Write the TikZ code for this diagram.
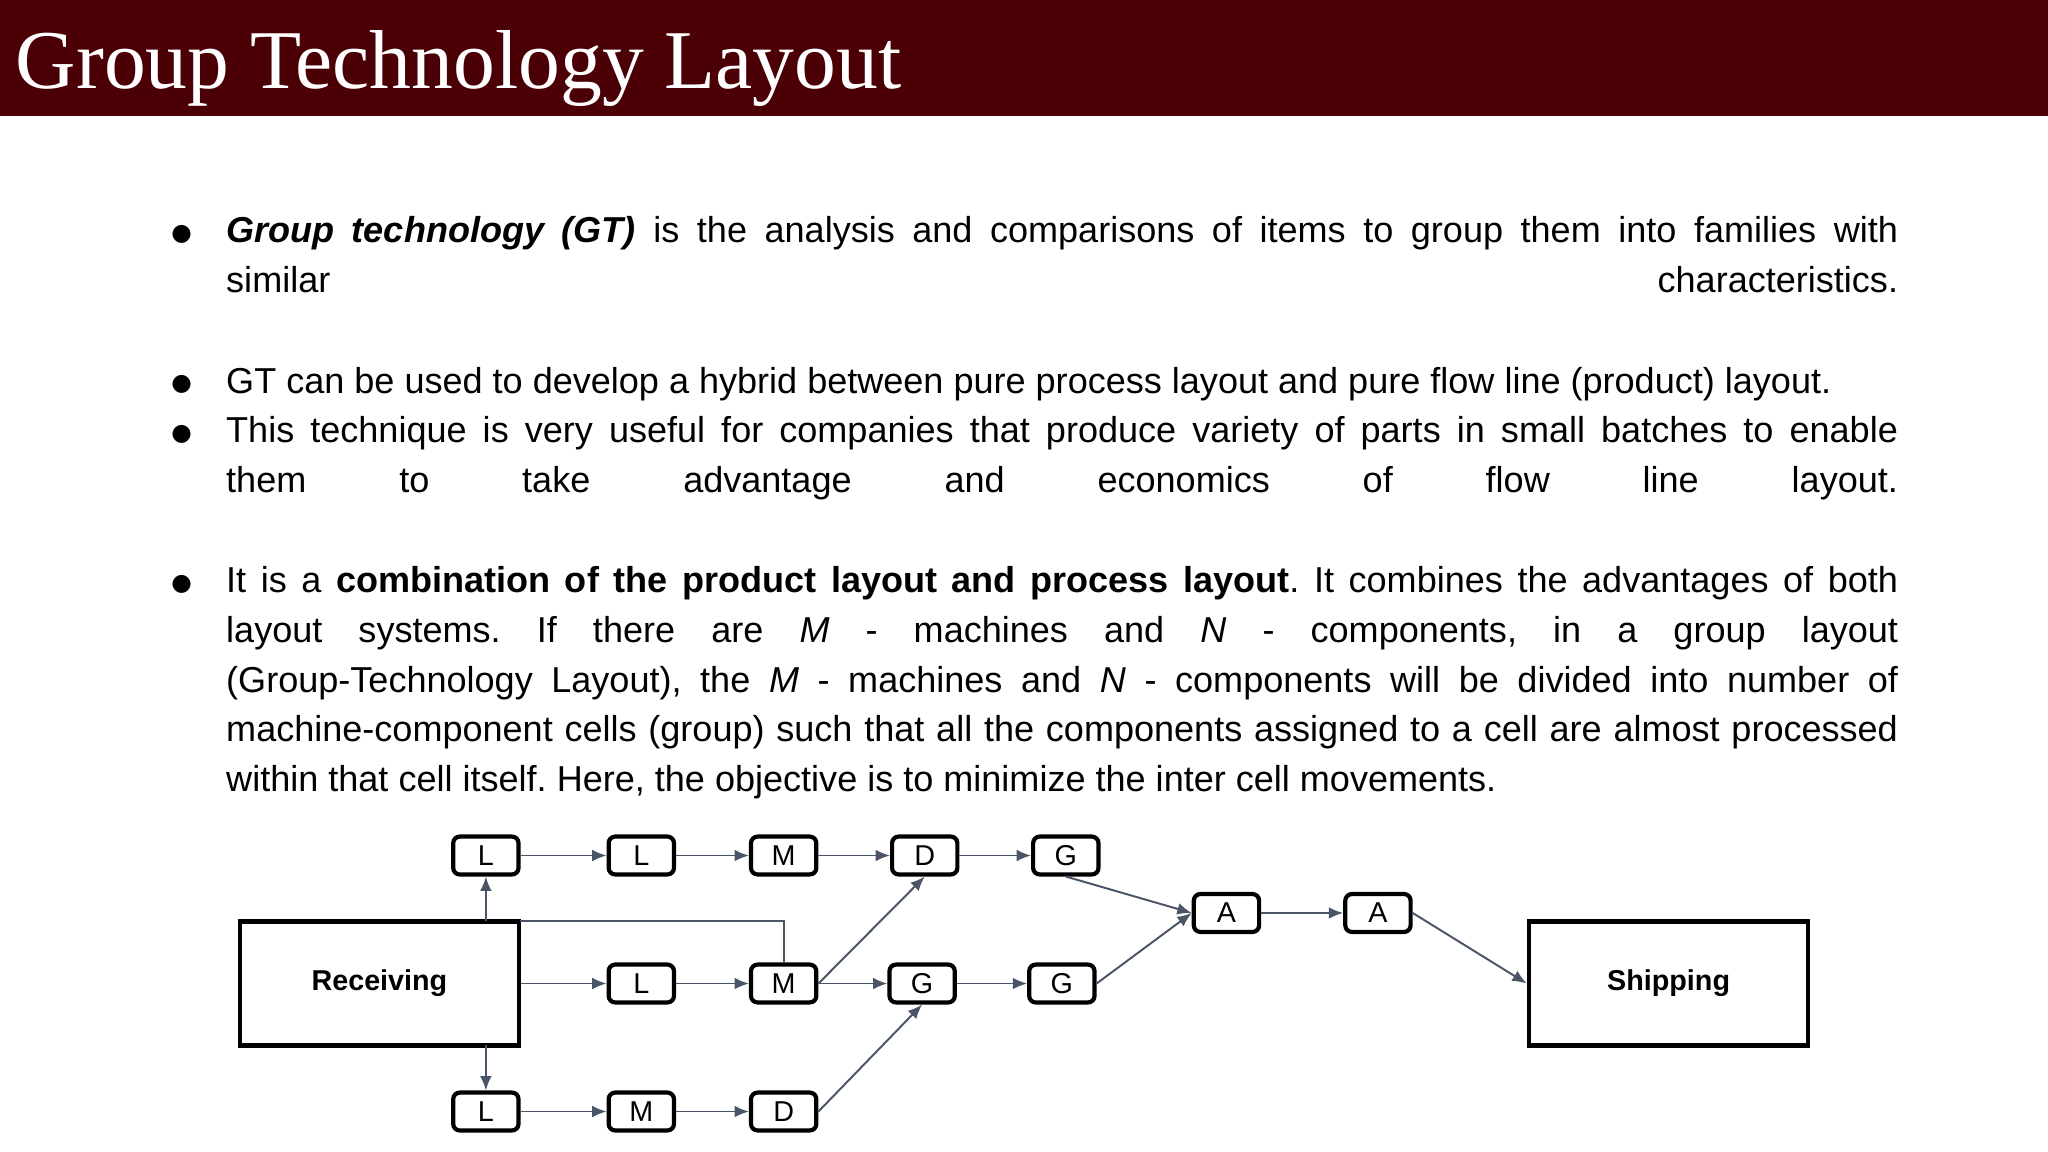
\documentclass[tikz,border=0pt]{standalone}
\usepackage{fontspec}
\setmainfont{Liberation Sans}
\newfontfamily\titlefont{Liberation Serif}
\newfontfamily\dejavu{DejaVu Sans}
\usetikzlibrary{arrows.meta}
\definecolor{band}{HTML}{4A0004}
\definecolor{arr}{HTML}{4A5568}
\tikzset{
  mbox/.style={draw=black,line width=3.2pt,rounded corners=5pt,minimum width=50pt,minimum height=29pt,inner sep=0pt,font=\fontsize{22}{22}\selectfont},
  bigbox/.style={draw=black,line width=3.2pt,minimum width=214pt,minimum height=95pt,inner sep=0pt,font=\fontsize{22}{22}\selectfont\bfseries},
  conn/.style={draw=arr,line width=1.5pt,-{Latex[length=11pt,width=9pt]}},
  plainconn/.style={draw=arr,line width=1.5pt},
  para/.style={anchor=base west,inner sep=0pt,font=\fontsize{27.6}{38}\selectfont},
  bul/.style={anchor=base,inner sep=0pt,font=\dejavu\fontsize{18}{38}\selectfont}
}
\begin{document}
\begin{tikzpicture}[x=1pt,y=1pt]
\useasboundingbox (0,0) rectangle (1568,-882);
\fill[white] (0,0) rectangle (1568,-882);
\fill[band] (0,0) rectangle (1568,-89);
\node[anchor=base west,inner sep=0pt,text=white,font=\titlefont\fontsize{64}{64}\selectfont] (title) at (12,-68) {Group Technology Layout};
% bullets
\node[bul] (b1) at (139,-184) {●};
\node[bul] (b2) at (139,-299) {●};
\node[bul] (b3) at (139,-337) {●};
\node[bul] (b4) at (139,-452) {●};
\node[para] (p1) at (173,-186) {\parbox[t]{1280pt}{\hyphenpenalty=10000\parfillskip=0pt \textbf{\textit{Group technology (GT)}} is the analysis and comparisons of items to group them into families with\linebreak similar characteristics.}};
\node[para] (p2) at (173,-301) {\parbox[t]{1280pt}{\hyphenpenalty=10000 GT can be used to develop a hybrid between pure process layout and pure flow line (product) layout.}};
\node[para] (p3) at (173,-339) {\parbox[t]{1280pt}{\hyphenpenalty=10000\parfillskip=0pt This technique is very useful for companies that produce variety of parts in small batches to enable\linebreak them to take advantage and economics of flow line layout.}};
\node[para] (p4) at (173,-454) {\parbox[t]{1280pt}{\hyphenpenalty=10000\frenchspacing It is a \textbf{combination of the product layout and process layout}. It combines the advantages of both\linebreak layout systems. If there are \textit{M} - machines and \textit{N} - components, in a group layout\linebreak (Group-Technology Layout), the \textit{M} - machines and \textit{N} - components will be divided into number of\linebreak machine-component cells (group) such that all the components assigned to a cell are almost processed\linebreak within that cell itself. Here, the objective is to minimize the inter cell movements.}};
% diagram
\node[bigbox] (rec) at (290.5,-753) {Receiving};
\node[bigbox] (shp) at (1277.5,-753) {Shipping};
\node[mbox] (t1) at (372,-655) {L};
\node[mbox] (t2) at (491,-655) {L};
\node[mbox] (t3) at (600,-655) {M};
\node[mbox] (t4) at (708,-655) {D};
\node[mbox] (t5) at (816,-655) {G};
\node[mbox] (m1) at (491,-753) {L};
\node[mbox] (m2) at (600,-753) {M};
\node[mbox] (m3) at (706,-753) {G};
\node[mbox] (m4) at (813,-753) {G};
\node[mbox] (d1) at (372,-851) {L};
\node[mbox] (d2) at (491,-851) {M};
\node[mbox] (d3) at (600,-851) {D};
\node[mbox] (a1) at (939,-699) {A};
\node[mbox] (a2) at (1055,-699) {A};
\coordinate (rtop) at (372,-705);
\coordinate (rbot) at (372,-800);
\coordinate (rcorner) at (398,-705);
\coordinate (mcorner) at (600,-705);
\draw[conn] (rtop) -- (t1.south);
\draw[conn] (rbot) -- (d1.north);
\draw[conn] (rec.east) -- (m1.west);
\draw[plainconn] (rcorner) -- (mcorner) -- (m2.north);
\draw[conn] (t1) -- (t2);
\draw[conn] (t2) -- (t3);
\draw[conn] (t3) -- (t4);
\draw[conn] (t4) -- (t5);
\draw[conn] (m1) -- (m2);
\draw[conn] (m2) -- (m3);
\draw[conn] (m3) -- (m4);
\draw[conn] (d1) -- (d2);
\draw[conn] (d2) -- (d3);
\draw[conn] (m2.east) -- (t4.south);
\draw[conn] (d3.east) -- (m3.south);
\draw[conn] (t5.south) -- (a1.west);
\draw[conn] (m4.east) -- (a1.west);
\draw[conn] (a1) -- (a2);
\draw[conn] (a2.east) -- (shp.west);
\end{tikzpicture}
\end{document}
